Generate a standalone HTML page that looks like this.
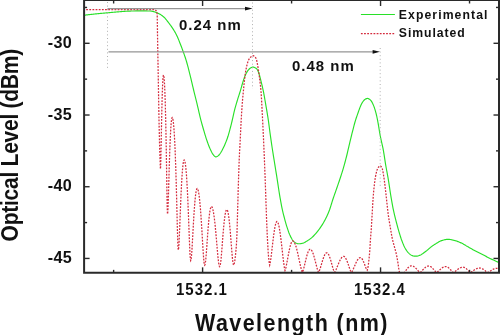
<!DOCTYPE html>
<html><head><meta charset="utf-8"><title>Optical spectrum</title>
<style>
html,body{margin:0;padding:0;background:#fff;width:500px;height:335px;overflow:hidden}
svg{display:block}
text{font-family:"Liberation Sans",Arial,sans-serif;font-weight:bold;fill:#111}
.tk{font-size:16.3px;letter-spacing:1.1px}
.lg{font-size:13.6px;letter-spacing:1.05px}
.ttl{font-size:23.6px}
</style></head>
<body>
<svg width="500" height="335" viewBox="0 0 500 335">
<defs><clipPath id="pa"><rect x="84.1" y="0" width="414.9" height="272.85"/></clipPath></defs>
<rect width="500" height="335" fill="#fff"/>
<g clip-path="url(#pa)" fill="none">
<path d="M83.00 15.50 L83.50 15.39 L84.00 15.30 L84.50 15.22 L85.00 15.14 L85.50 15.07 L86.00 15.00 L86.50 14.94 L87.00 14.87 L87.50 14.81 L88.00 14.75 L88.50 14.69 L89.00 14.63 L89.50 14.58 L90.00 14.52 L90.50 14.47 L91.00 14.41 L91.50 14.36 L92.00 14.31 L92.50 14.25 L93.00 14.20 L93.50 14.15 L94.00 14.09 L94.50 14.04 L95.00 13.99 L95.50 13.93 L96.00 13.88 L96.50 13.83 L97.00 13.78 L97.50 13.73 L98.00 13.68 L98.50 13.63 L99.00 13.58 L99.50 13.54 L100.00 13.49 L100.50 13.44 L101.00 13.39 L101.50 13.35 L102.00 13.30 L102.50 13.25 L103.00 13.21 L103.50 13.16 L104.00 13.11 L104.50 13.07 L105.00 13.02 L105.50 12.97 L106.00 12.93 L106.50 12.88 L107.00 12.84 L107.50 12.79 L108.00 12.74 L108.50 12.70 L109.00 12.65 L109.50 12.61 L110.00 12.56 L110.50 12.51 L111.00 12.47 L111.50 12.42 L112.00 12.38 L112.50 12.33 L113.00 12.29 L113.50 12.24 L114.00 12.20 L114.50 12.15 L115.00 12.11 L115.50 12.07 L116.00 12.02 L116.50 11.98 L117.00 11.94 L117.50 11.90 L118.00 11.86 L118.50 11.82 L119.00 11.78 L119.50 11.74 L120.00 11.70 L120.50 11.66 L121.00 11.62 L121.50 11.58 L122.00 11.54 L122.50 11.50 L123.00 11.46 L123.50 11.42 L124.00 11.39 L124.50 11.35 L125.00 11.31 L125.50 11.28 L126.00 11.24 L126.50 11.21 L127.00 11.19 L127.50 11.16 L128.00 11.14 L128.50 11.12 L129.00 11.10 L129.50 11.09 L130.00 11.07 L130.50 11.06 L131.00 11.04 L131.50 11.03 L132.00 11.02 L132.50 11.00 L133.00 10.99 L133.50 10.98 L134.00 10.97 L134.50 10.96 L135.00 10.95 L135.50 10.94 L136.00 10.93 L136.50 10.93 L137.00 10.92 L137.50 10.91 L138.00 10.91 L138.50 10.90 L139.00 10.90 L139.50 10.90 L140.00 10.90 L140.50 10.90 L141.00 10.90 L141.50 10.90 L142.00 10.90 L142.50 10.91 L143.00 10.91 L143.50 10.91 L144.00 10.92 L144.50 10.92 L145.00 10.92 L145.50 10.93 L146.00 10.94 L146.50 10.94 L147.00 10.95 L147.50 10.96 L148.00 10.96 L148.50 10.97 L149.00 10.98 L149.50 10.99 L150.00 11.00 L150.50 11.02 L151.00 11.07 L151.50 11.14 L152.00 11.23 L152.50 11.33 L153.00 11.45 L153.50 11.59 L154.00 11.73 L154.50 11.88 L155.00 12.04 L155.50 12.20 L156.00 12.37 L156.50 12.53 L157.00 12.72 L157.50 12.93 L158.00 13.16 L158.50 13.42 L159.00 13.68 L159.50 13.97 L160.00 14.26 L160.50 14.56 L161.00 14.87 L161.50 15.21 L162.00 15.56 L162.50 15.94 L163.00 16.33 L163.50 16.75 L164.00 17.20 L164.50 17.68 L165.00 18.21 L165.50 18.78 L166.00 19.38 L166.50 20.00 L167.00 20.64 L167.50 21.29 L168.00 21.95 L168.50 22.60 L169.00 23.25 L169.50 23.91 L170.00 24.58 L170.50 25.26 L171.00 25.95 L171.50 26.66 L172.00 27.39 L172.50 28.13 L173.00 28.90 L173.50 29.68 L174.00 30.48 L174.50 31.30 L175.00 32.15 L175.50 33.03 L176.00 33.94 L176.50 34.90 L177.00 35.91 L177.50 37.00 L178.00 38.17 L178.50 39.39 L179.00 40.64 L179.50 41.93 L180.00 43.22 L180.50 44.50 L181.00 45.78 L181.50 47.08 L182.00 48.40 L182.50 49.74 L183.00 51.11 L183.50 52.50 L184.00 53.91 L184.50 55.33 L185.00 56.78 L185.50 58.28 L186.00 59.85 L186.50 61.50 L187.00 63.25 L187.50 65.07 L188.00 66.95 L188.50 68.88 L189.00 70.83 L189.50 72.81 L190.00 74.80 L190.50 76.83 L191.00 78.91 L191.50 81.03 L192.00 83.16 L192.50 85.30 L193.00 87.42 L193.50 89.50 L194.00 91.55 L194.50 93.57 L195.00 95.58 L195.50 97.59 L196.00 99.60 L196.50 101.62 L197.00 103.67 L197.50 105.76 L198.00 107.91 L198.50 110.10 L199.00 112.30 L199.50 114.47 L200.00 116.58 L200.50 118.61 L201.00 120.54 L201.50 122.41 L202.00 124.23 L202.50 126.01 L203.00 127.76 L203.50 129.48 L204.00 131.18 L204.50 132.87 L205.00 134.55 L205.50 136.20 L206.00 137.80 L206.50 139.33 L207.00 140.80 L207.50 142.21 L208.00 143.59 L208.50 144.93 L209.00 146.23 L209.50 147.46 L210.00 148.62 L210.50 149.70 L211.00 150.74 L211.50 151.76 L212.00 152.72 L212.50 153.61 L213.00 154.38 L213.50 155.00 L214.00 155.55 L214.50 156.08 L215.00 156.53 L215.50 156.82 L216.00 156.90 L216.50 156.79 L217.00 156.57 L217.50 156.25 L218.00 155.89 L218.50 155.50 L219.00 155.03 L219.50 154.42 L220.00 153.72 L220.50 152.96 L221.00 152.19 L221.50 151.37 L222.00 150.49 L222.50 149.55 L223.00 148.57 L223.50 147.55 L224.00 146.49 L224.50 145.40 L225.00 144.27 L225.50 143.10 L226.00 141.87 L226.50 140.58 L227.00 139.23 L227.50 137.80 L228.00 136.30 L228.50 134.67 L229.00 132.91 L229.50 131.05 L230.00 129.14 L230.50 127.24 L231.00 125.29 L231.50 123.29 L232.00 121.24 L232.50 119.15 L233.00 116.95 L233.50 114.70 L234.00 112.48 L234.50 110.39 L235.00 108.47 L235.50 106.64 L236.00 104.88 L236.50 103.17 L237.00 101.49 L237.50 99.83 L238.00 98.20 L238.50 96.62 L239.00 95.08 L239.50 93.53 L240.00 91.96 L240.50 90.34 L241.00 88.60 L241.50 86.78 L242.00 84.99 L242.50 83.29 L243.00 81.64 L243.50 80.06 L244.00 78.60 L244.50 77.25 L245.00 75.98 L245.50 74.83 L246.00 73.80 L246.50 72.85 L247.00 71.96 L247.50 71.16 L248.00 70.45 L248.50 69.84 L249.00 69.27 L249.50 68.76 L250.00 68.32 L250.50 68.00 L251.00 67.74 L251.50 67.49 L252.00 67.29 L252.50 67.15 L253.00 67.10 L253.50 67.15 L254.00 67.29 L254.50 67.48 L255.00 67.71 L255.50 67.95 L256.00 68.27 L256.50 68.69 L257.00 69.20 L257.50 69.95 L258.00 70.98 L258.50 72.21 L259.00 73.57 L259.50 75.24 L260.00 77.14 L260.50 79.11 L261.00 81.06 L261.50 83.06 L262.00 85.12 L262.50 87.28 L263.00 89.55 L263.50 91.98 L264.00 94.61 L264.50 97.38 L265.00 100.25 L265.50 103.16 L266.00 106.05 L266.50 108.94 L267.00 111.86 L267.50 114.87 L268.00 118.02 L268.50 121.38 L269.00 125.07 L269.50 128.95 L270.00 132.80 L270.50 136.42 L271.00 139.92 L271.50 143.35 L272.00 146.71 L272.50 150.00 L273.00 153.21 L273.50 156.34 L274.00 159.43 L274.50 162.52 L275.00 165.62 L275.50 168.73 L276.00 171.84 L276.50 174.95 L277.00 178.09 L277.50 181.29 L278.00 184.61 L278.50 187.97 L279.00 191.27 L279.50 194.40 L280.00 197.34 L280.50 200.20 L281.00 202.95 L281.50 205.57 L282.00 208.05 L282.50 210.37 L283.00 212.51 L283.50 214.54 L284.00 216.50 L284.50 218.42 L285.00 220.30 L285.50 222.13 L286.00 223.89 L286.50 225.55 L287.00 227.12 L287.50 228.64 L288.00 230.14 L288.50 231.57 L289.00 232.94 L289.50 234.21 L290.00 235.37 L290.50 236.40 L291.00 237.38 L291.50 238.34 L292.00 239.24 L292.50 240.07 L293.00 240.79 L293.50 241.37 L294.00 241.80 L294.50 242.13 L295.00 242.45 L295.50 242.74 L296.00 243.01 L296.50 243.25 L297.00 243.45 L297.50 243.61 L298.00 243.73 L298.50 243.79 L299.00 243.80 L299.50 243.78 L300.00 243.73 L300.50 243.67 L301.00 243.59 L301.50 243.50 L302.00 243.40 L302.50 243.30 L303.00 243.16 L303.50 242.97 L304.00 242.73 L304.50 242.47 L305.00 242.18 L305.50 241.89 L306.00 241.60 L306.50 241.31 L307.00 241.02 L307.50 240.71 L308.00 240.39 L308.50 240.06 L309.00 239.72 L309.50 239.36 L310.00 239.00 L310.50 238.62 L311.00 238.23 L311.50 237.82 L312.00 237.40 L312.50 236.96 L313.00 236.49 L313.50 236.00 L314.00 235.49 L314.50 234.96 L315.00 234.41 L315.50 233.84 L316.00 233.26 L316.50 232.66 L317.00 232.05 L317.50 231.43 L318.00 230.80 L318.50 230.16 L319.00 229.50 L319.50 228.82 L320.00 228.12 L320.50 227.41 L321.00 226.67 L321.50 225.92 L322.00 225.14 L322.50 224.34 L323.00 223.52 L323.50 222.67 L324.00 221.80 L324.50 220.90 L325.00 219.98 L325.50 219.02 L326.00 218.02 L326.50 217.00 L327.00 215.93 L327.50 214.82 L328.00 213.68 L328.50 212.49 L329.00 211.25 L329.50 209.94 L330.00 208.49 L330.50 206.95 L331.00 205.34 L331.50 203.71 L332.00 202.09 L332.50 200.51 L333.00 199.01 L333.50 197.54 L334.00 196.10 L334.50 194.68 L335.00 193.26 L335.50 191.85 L336.00 190.43 L336.50 189.00 L337.00 187.56 L337.50 186.10 L338.00 184.63 L338.50 183.16 L339.00 181.70 L339.50 180.23 L340.00 178.75 L340.50 177.25 L341.00 175.73 L341.50 174.19 L342.00 172.61 L342.50 170.99 L343.00 169.33 L343.50 167.62 L344.00 165.87 L344.50 164.07 L345.00 162.24 L345.50 160.36 L346.00 158.45 L346.50 156.50 L347.00 154.49 L347.50 152.39 L348.00 150.24 L348.50 148.07 L349.00 145.90 L349.50 143.76 L350.00 141.67 L350.50 139.60 L351.00 137.54 L351.50 135.50 L352.00 133.48 L352.50 131.50 L353.00 129.52 L353.50 127.55 L354.00 125.61 L354.50 123.75 L355.00 122.00 L355.50 120.36 L356.00 118.79 L356.50 117.29 L357.00 115.83 L357.50 114.40 L358.00 112.98 L358.50 111.56 L359.00 110.14 L359.50 108.74 L360.00 107.40 L360.50 106.17 L361.00 105.07 L361.50 104.05 L362.00 103.09 L362.50 102.23 L363.00 101.50 L363.50 100.85 L364.00 100.26 L364.50 99.77 L365.00 99.40 L365.50 99.12 L366.00 98.85 L366.50 98.63 L367.00 98.47 L367.50 98.40 L368.00 98.45 L368.50 98.64 L369.00 98.92 L369.50 99.24 L370.00 99.60 L370.50 100.08 L371.00 100.67 L371.50 101.34 L372.00 102.15 L372.50 103.12 L373.00 104.21 L373.50 105.40 L374.00 106.66 L374.50 108.06 L375.00 109.64 L375.50 111.36 L376.00 113.22 L376.50 115.24 L377.00 117.50 L377.50 119.95 L378.00 122.53 L378.50 125.40 L379.00 128.48 L379.50 131.57 L380.00 134.46 L380.50 137.02 L381.00 139.36 L381.50 141.58 L382.00 143.76 L382.50 146.02 L383.00 148.43 L383.50 151.11 L384.00 154.13 L384.50 157.35 L385.00 160.63 L385.50 163.80 L386.00 166.73 L386.50 169.50 L387.00 172.19 L387.50 174.88 L388.00 177.66 L388.50 180.61 L389.00 183.81 L389.50 187.16 L390.00 190.53 L390.50 193.77 L391.00 196.80 L391.50 199.76 L392.00 202.65 L392.50 205.42 L393.00 208.04 L393.50 210.47 L394.00 212.74 L394.50 214.89 L395.00 216.95 L395.50 218.93 L396.00 220.85 L396.50 222.75 L397.00 224.62 L397.50 226.49 L398.00 228.32 L398.50 230.09 L399.00 231.82 L399.50 233.50 L400.00 235.14 L400.50 236.76 L401.00 238.30 L401.50 239.73 L402.00 241.06 L402.50 242.36 L403.00 243.62 L403.50 244.82 L404.00 245.96 L404.50 247.01 L405.00 247.97 L405.50 248.83 L406.00 249.64 L406.50 250.40 L407.00 251.10 L407.50 251.76 L408.00 252.36 L408.50 252.91 L409.00 253.39 L409.50 253.84 L410.00 254.25 L410.50 254.62 L411.00 254.94 L411.50 255.20 L412.00 255.43 L412.50 255.65 L413.00 255.84 L413.50 255.99 L414.00 256.08 L414.50 256.10 L415.00 256.10 L415.50 256.10 L416.00 256.10 L416.50 256.10 L417.00 256.10 L417.50 256.06 L418.00 255.94 L418.50 255.78 L419.00 255.58 L419.50 255.38 L420.00 255.18 L420.50 254.95 L421.00 254.69 L421.50 254.40 L422.00 254.09 L422.50 253.76 L423.00 253.42 L423.50 253.06 L424.00 252.69 L424.50 252.32 L425.00 251.94 L425.50 251.57 L426.00 251.20 L426.50 250.82 L427.00 250.42 L427.50 250.00 L428.00 249.57 L428.50 249.13 L429.00 248.69 L429.50 248.25 L430.00 247.82 L430.50 247.41 L431.00 247.00 L431.50 246.63 L432.00 246.26 L432.50 245.90 L433.00 245.55 L433.50 245.21 L434.00 244.88 L434.50 244.56 L435.00 244.24 L435.50 243.94 L436.00 243.63 L436.50 243.32 L437.00 243.01 L437.50 242.69 L438.00 242.39 L438.50 242.09 L439.00 241.80 L439.50 241.53 L440.00 241.28 L440.50 241.05 L441.00 240.84 L441.50 240.66 L442.00 240.51 L442.50 240.36 L443.00 240.21 L443.50 240.07 L444.00 239.93 L444.50 239.80 L445.00 239.68 L445.50 239.57 L446.00 239.48 L446.50 239.40 L447.00 239.35 L447.50 239.31 L448.00 239.30 L448.50 239.31 L449.00 239.34 L449.50 239.39 L450.00 239.46 L450.50 239.54 L451.00 239.63 L451.50 239.74 L452.00 239.85 L452.50 239.96 L453.00 240.09 L453.50 240.21 L454.00 240.33 L454.50 240.45 L455.00 240.58 L455.50 240.72 L456.00 240.88 L456.50 241.04 L457.00 241.22 L457.50 241.40 L458.00 241.59 L458.50 241.79 L459.00 242.00 L459.50 242.21 L460.00 242.43 L460.50 242.65 L461.00 242.87 L461.50 243.10 L462.00 243.34 L462.50 243.59 L463.00 243.86 L463.50 244.14 L464.00 244.42 L464.50 244.72 L465.00 245.02 L465.50 245.33 L466.00 245.63 L466.50 245.94 L467.00 246.23 L467.50 246.53 L468.00 246.81 L468.50 247.10 L469.00 247.38 L469.50 247.67 L470.00 247.96 L470.50 248.24 L471.00 248.53 L471.50 248.81 L472.00 249.10 L472.50 249.38 L473.00 249.65 L473.50 249.93 L474.00 250.20 L474.50 250.47 L475.00 250.73 L475.50 250.99 L476.00 251.25 L476.50 251.51 L477.00 251.77 L477.50 252.02 L478.00 252.28 L478.50 252.53 L479.00 252.78 L479.50 253.03 L480.00 253.29 L480.50 253.54 L481.00 253.79 L481.50 254.04 L482.00 254.30 L482.50 254.56 L483.00 254.81 L483.50 255.07 L484.00 255.33 L484.50 255.59 L485.00 255.85 L485.50 256.11 L486.00 256.37 L486.50 256.63 L487.00 256.89 L487.50 257.15 L488.00 257.41 L488.50 257.66 L489.00 257.91 L489.50 258.16 L490.00 258.41 L490.50 258.66 L491.00 258.90 L491.50 259.14 L492.00 259.38 L492.50 259.61 L493.00 259.84 L493.50 260.07 L494.00 260.29 L494.50 260.52 L495.00 260.74 L495.50 260.97 L496.00 261.19 L496.50 261.42 L497.00 261.65 L497.50 261.88 L498.00 262.11 L498.50 262.34 L499.00 262.57 L499.50 262.81 L500.00 263.05 L500.50 263.28 L501.00 263.52 L501.50 263.76 L502.00 264.00" stroke="#28e028" stroke-width="1.15" stroke-linejoin="round"/>
<path d="M83.00 9.50 L155.20 9.60 L156.40 11.00 L157.20 14.00 L157.60 40.00 L158.30 80.00 L159.00 120.00 L159.70 150.00 L160.40 169.00 L160.53 168.07 L160.66 165.37 L160.79 161.16 L160.92 155.80 L161.05 149.67 L161.18 143.09 L161.30 136.35 L161.43 129.66 L161.56 123.16 L161.69 116.97 L161.82 111.15 L161.95 105.73 L162.08 100.75 L162.21 96.22 L162.34 92.13 L162.47 88.49 L162.60 85.30 L162.72 82.54 L162.85 80.23 L162.98 78.34 L163.11 76.87 L163.24 75.83 L163.37 75.21 L163.50 75.00 L163.67 75.24 L163.83 75.95 L164.00 77.15 L164.17 78.84 L164.33 81.03 L164.50 83.73 L164.67 86.95 L164.83 90.73 L165.00 95.08 L165.17 100.02 L165.33 105.59 L165.50 111.82 L165.67 118.75 L165.83 126.40 L166.00 134.80 L166.17 143.96 L166.33 153.85 L166.50 164.39 L166.67 175.38 L166.83 186.42 L167.00 196.88 L167.17 205.75 L167.33 211.82 L167.50 214.00 L167.70 213.02 L167.89 210.18 L168.09 205.78 L168.28 200.18 L168.48 193.80 L168.68 186.98 L168.87 180.03 L169.07 173.14 L169.26 166.48 L169.46 160.14 L169.65 154.20 L169.85 148.68 L170.05 143.61 L170.24 139.00 L170.44 134.85 L170.63 131.16 L170.83 127.92 L171.02 125.13 L171.22 122.79 L171.42 120.88 L171.61 119.40 L171.81 118.34 L172.00 117.71 L172.20 117.50 L172.45 117.74 L172.71 118.44 L172.96 119.62 L173.22 121.29 L173.47 123.44 L173.72 126.10 L173.98 129.28 L174.23 132.99 L174.49 137.26 L174.74 142.11 L175.00 147.57 L175.25 153.66 L175.50 160.42 L175.76 167.85 L176.01 175.99 L176.27 184.81 L176.52 194.29 L176.78 204.31 L177.03 214.66 L177.28 224.95 L177.54 234.56 L177.79 242.61 L178.05 248.06 L178.30 250.00 L178.55 249.14 L178.79 246.65 L179.04 242.75 L179.28 237.76 L179.53 232.01 L179.78 225.80 L180.02 219.41 L180.27 213.03 L180.51 206.81 L180.76 200.85 L181.00 195.23 L181.25 189.99 L181.50 185.15 L181.74 180.74 L181.99 176.76 L182.23 173.21 L182.48 170.09 L182.72 167.39 L182.97 165.12 L183.22 163.27 L183.46 161.84 L183.71 160.82 L183.95 160.20 L184.20 160.00 L184.47 160.21 L184.74 160.86 L185.01 161.93 L185.28 163.44 L185.55 165.38 L185.82 167.78 L186.10 170.62 L186.37 173.93 L186.64 177.70 L186.91 181.95 L187.18 186.68 L187.45 191.89 L187.72 197.58 L187.99 203.73 L188.26 210.30 L188.53 217.24 L188.80 224.45 L189.07 231.77 L189.35 238.99 L189.62 245.79 L189.89 251.80 L190.16 256.56 L190.43 259.63 L190.70 260.70 L190.97 260.12 L191.24 258.42 L191.51 255.72 L191.78 252.18 L192.05 248.01 L192.32 243.39 L192.60 238.52 L192.87 233.53 L193.14 228.57 L193.41 223.72 L193.68 219.08 L193.95 214.68 L194.22 210.57 L194.49 206.78 L194.76 203.33 L195.03 200.22 L195.30 197.48 L195.57 195.10 L195.85 193.08 L196.12 191.43 L196.39 190.15 L196.66 189.23 L196.93 188.68 L197.20 188.50 L197.51 188.69 L197.82 189.26 L198.14 190.20 L198.45 191.53 L198.76 193.23 L199.07 195.32 L199.39 197.79 L199.70 200.64 L200.01 203.86 L200.32 207.46 L200.64 211.42 L200.95 215.72 L201.26 220.35 L201.57 225.25 L201.89 230.39 L202.20 235.67 L202.51 241.01 L202.82 246.26 L203.14 251.27 L203.45 255.82 L203.76 259.70 L204.07 262.68 L204.39 264.56 L204.70 265.20 L204.98 264.78 L205.26 263.56 L205.54 261.59 L205.82 258.99 L206.10 255.86 L206.38 252.34 L206.65 248.55 L206.93 244.62 L207.21 240.64 L207.49 236.69 L207.77 232.85 L208.05 229.18 L208.33 225.71 L208.61 222.47 L208.89 219.50 L209.17 216.81 L209.45 214.42 L209.72 212.33 L210.00 210.56 L210.28 209.10 L210.56 207.96 L210.84 207.15 L211.12 206.66 L211.40 206.50 L211.75 206.67 L212.09 207.16 L212.44 207.99 L212.78 209.14 L213.13 210.62 L213.47 212.42 L213.82 214.55 L214.17 216.98 L214.51 219.72 L214.86 222.75 L215.20 226.05 L215.55 229.59 L215.90 233.35 L216.24 237.29 L216.59 241.33 L216.93 245.42 L217.28 249.47 L217.62 253.38 L217.97 257.01 L218.32 260.25 L218.66 262.95 L219.01 265.00 L219.35 266.27 L219.70 266.70 L220.00 266.30 L220.29 265.13 L220.59 263.24 L220.88 260.73 L221.18 257.72 L221.47 254.32 L221.77 250.66 L222.07 246.85 L222.36 242.99 L222.66 239.15 L222.95 235.41 L223.25 231.82 L223.55 228.43 L223.84 225.27 L224.14 222.36 L224.43 219.73 L224.73 217.38 L225.03 215.33 L225.32 213.59 L225.62 212.16 L225.91 211.04 L226.21 210.24 L226.50 209.76 L226.80 209.60 L227.09 209.76 L227.38 210.23 L227.66 211.02 L227.95 212.11 L228.24 213.52 L228.53 215.23 L228.81 217.24 L229.10 219.55 L229.39 222.13 L229.68 224.98 L229.96 228.08 L230.25 231.39 L230.54 234.89 L230.82 238.54 L231.11 242.27 L231.40 246.03 L231.69 249.73 L231.97 253.27 L232.26 256.55 L232.55 259.46 L232.84 261.87 L233.12 263.69 L233.41 264.82 L233.70 265.20 L233.95 264.65 L234.20 263.79 L234.45 262.72 L234.70 261.47 L234.95 259.80 L235.20 257.76 L235.45 255.45 L235.70 253.02 L235.95 250.46 L236.20 247.59 L236.45 244.17 L236.70 240.00 L236.95 233.81 L237.20 225.52 L237.45 216.69 L237.70 207.98 L237.95 198.76 L238.20 190.00 L238.45 181.83 L238.70 173.90 L238.95 166.53 L239.20 160.00 L239.45 154.44 L239.70 149.50 L239.95 144.81 L240.20 140.00 L240.45 134.88 L240.70 129.68 L240.95 124.64 L241.20 120.00 L241.45 115.72 L241.70 111.64 L241.95 107.82 L242.20 104.31 L242.45 101.15 L242.70 98.28 L242.95 95.62 L243.20 93.07 L243.45 90.52 L243.70 87.90 L243.95 85.27 L244.20 82.74 L244.45 80.43 L244.70 78.33 L244.95 76.32 L245.20 74.41 L245.45 72.66 L245.70 71.09 L245.95 69.75 L246.20 68.52 L246.45 67.34 L246.70 66.21 L246.95 65.15 L247.20 64.15 L247.45 63.22 L247.70 62.37 L247.95 61.60 L248.20 60.91 L248.45 60.31 L248.70 59.81 L248.95 59.35 L249.20 58.93 L249.45 58.54 L249.70 58.19 L249.95 57.87 L250.20 57.58 L250.45 57.32 L250.70 57.08 L250.95 56.88 L251.20 56.67 L251.45 56.46 L251.70 56.27 L251.95 56.09 L252.20 55.94 L252.45 55.82 L252.70 55.74 L252.95 55.70 L253.20 55.71 L253.45 55.77 L253.70 55.87 L253.95 56.00 L254.20 56.16 L254.45 56.34 L254.70 56.54 L254.95 56.76 L255.20 57.01 L255.45 57.37 L255.70 57.82 L255.95 58.36 L256.20 58.97 L256.45 59.64 L256.70 60.50 L256.95 61.57 L257.20 62.81 L257.45 64.19 L257.70 65.67 L257.95 67.21 L258.20 68.77 L258.45 70.31 L258.70 71.91 L258.95 73.60 L259.20 75.39 L259.45 77.26 L259.70 79.20 L259.95 81.20 L260.20 83.22 L260.45 85.38 L260.70 87.80 L260.95 90.60 L261.20 94.01 L261.45 98.00 L261.70 102.44 L261.95 107.18 L262.20 112.10 L262.45 117.06 L262.70 121.96 L262.95 126.99 L263.20 132.21 L263.45 137.61 L263.70 143.16 L263.95 148.85 L264.20 154.69 L264.45 160.73 L264.70 166.96 L264.95 173.39 L265.20 180.00 L265.45 186.98 L265.70 194.25 L265.95 201.42 L266.20 208.64 L266.45 215.80 L266.70 222.52 L266.95 228.52 L267.20 234.02 L267.45 239.05 L267.70 243.80 L267.95 248.39 L268.20 252.44 L268.45 255.54 L268.70 258.17 L268.95 260.58 L269.20 262.63 L269.45 264.21 L269.70 265.20 L270.00 264.10 L270.31 262.40 L270.61 260.39 L270.92 258.15 L271.22 255.76 L271.52 253.25 L271.83 250.67 L272.13 248.06 L272.44 245.44 L272.74 242.84 L273.05 240.30 L273.35 237.83 L273.65 235.47 L273.96 233.23 L274.26 231.14 L274.57 229.21 L274.87 227.47 L275.18 225.93 L275.48 224.60 L275.78 223.50 L276.09 222.63 L276.39 222.00 L276.70 221.63 L277.00 221.50 L277.33 221.64 L277.67 222.07 L278.00 222.77 L278.33 223.74 L278.67 224.98 L279.00 226.47 L279.33 228.20 L279.67 230.15 L280.00 232.31 L280.33 234.65 L280.67 237.16 L281.00 239.81 L281.33 242.57 L281.67 245.43 L282.00 248.34 L282.33 251.28 L282.67 254.21 L283.00 257.10 L283.33 259.91 L283.67 262.60 L284.00 265.10 L284.33 267.36 L284.67 269.27 L285.00 270.50 L285.32 269.76 L285.65 268.61 L285.98 267.25 L286.30 265.74 L286.62 264.13 L286.95 262.43 L287.27 260.69 L287.60 258.93 L287.93 257.16 L288.25 255.41 L288.57 253.69 L288.90 252.02 L289.23 250.43 L289.55 248.92 L289.88 247.51 L290.20 246.21 L290.53 245.03 L290.85 243.99 L291.18 243.09 L291.50 242.35 L291.82 241.76 L292.15 241.34 L292.48 241.09 L292.80 241.00 L293.20 241.09 L293.60 241.36 L294.00 241.81 L294.40 242.43 L294.80 243.22 L295.20 244.17 L295.60 245.28 L296.00 246.52 L296.40 247.90 L296.80 249.40 L297.20 251.00 L297.60 252.70 L298.00 254.46 L298.40 256.28 L298.80 258.14 L299.20 260.02 L299.60 261.89 L300.00 263.74 L300.40 265.54 L300.80 267.25 L301.20 268.85 L301.60 270.30 L302.00 271.51 L302.40 272.30 L302.72 271.72 L303.05 270.82 L303.38 269.76 L303.70 268.57 L304.02 267.31 L304.35 265.98 L304.67 264.62 L305.00 263.24 L305.32 261.85 L305.65 260.48 L305.97 259.14 L306.30 257.83 L306.62 256.58 L306.95 255.40 L307.27 254.29 L307.60 253.28 L307.93 252.36 L308.25 251.54 L308.57 250.84 L308.90 250.26 L309.22 249.80 L309.55 249.47 L309.88 249.27 L310.20 249.20 L310.55 249.27 L310.90 249.47 L311.25 249.80 L311.60 250.26 L311.95 250.84 L312.30 251.54 L312.65 252.36 L313.00 253.28 L313.35 254.29 L313.70 255.40 L314.05 256.58 L314.40 257.83 L314.75 259.14 L315.10 260.48 L315.45 261.85 L315.80 263.24 L316.15 264.62 L316.50 265.98 L316.85 267.31 L317.20 268.57 L317.55 269.76 L317.90 270.82 L318.25 271.72 L318.60 272.30 L318.94 271.81 L319.28 271.05 L319.62 270.15 L319.97 269.16 L320.31 268.09 L320.65 266.97 L320.99 265.82 L321.33 264.65 L321.68 263.48 L322.02 262.32 L322.36 261.19 L322.70 260.09 L323.04 259.03 L323.38 258.03 L323.73 257.10 L324.07 256.24 L324.41 255.46 L324.75 254.78 L325.09 254.18 L325.43 253.69 L325.78 253.30 L326.12 253.02 L326.46 252.86 L326.80 252.80 L327.12 252.86 L327.44 253.02 L327.76 253.30 L328.08 253.69 L328.40 254.18 L328.73 254.78 L329.05 255.46 L329.37 256.24 L329.69 257.10 L330.01 258.03 L330.33 259.03 L330.65 260.09 L330.97 261.19 L331.29 262.32 L331.61 263.48 L331.93 264.65 L332.25 265.82 L332.57 266.97 L332.90 268.09 L333.22 269.16 L333.54 270.15 L333.86 271.05 L334.18 271.81 L334.50 272.30 L334.88 271.90 L335.26 271.28 L335.64 270.55 L336.02 269.74 L336.40 268.86 L336.77 267.95 L337.15 267.01 L337.53 266.06 L337.91 265.11 L338.29 264.16 L338.67 263.24 L339.05 262.34 L339.43 261.48 L339.81 260.67 L340.19 259.91 L340.57 259.21 L340.95 258.57 L341.33 258.01 L341.70 257.53 L342.08 257.13 L342.46 256.81 L342.84 256.58 L343.22 256.45 L343.60 256.40 L343.93 256.45 L344.25 256.58 L344.58 256.81 L344.90 257.13 L345.23 257.53 L345.55 258.01 L345.88 258.57 L346.20 259.21 L346.52 259.91 L346.85 260.67 L347.18 261.48 L347.50 262.34 L347.82 263.24 L348.15 264.16 L348.48 265.11 L348.80 266.06 L349.12 267.01 L349.45 267.95 L349.77 268.86 L350.10 269.74 L350.42 270.55 L350.75 271.28 L351.07 271.90 L351.40 272.30 L351.77 271.93 L352.15 271.36 L352.52 270.68 L352.90 269.93 L353.27 269.12 L353.65 268.28 L354.02 267.41 L354.40 266.53 L354.77 265.65 L355.15 264.78 L355.52 263.92 L355.90 263.09 L356.27 262.30 L356.65 261.55 L357.02 260.84 L357.40 260.19 L357.77 259.61 L358.15 259.09 L358.52 258.64 L358.90 258.27 L359.27 257.98 L359.65 257.77 L360.02 257.64 L360.40 257.60 L360.68 257.64 L360.97 257.75 L361.25 257.93 L361.53 258.18 L361.82 258.50 L362.10 258.89 L362.38 259.34 L362.67 259.84 L362.95 260.40 L363.23 261.01 L363.52 261.66 L363.80 262.35 L364.08 263.06 L364.37 263.80 L364.65 264.56 L364.93 265.32 L365.22 266.08 L365.50 266.83 L365.78 267.56 L366.07 268.25 L366.35 268.90 L366.63 269.49 L366.92 269.98 L367.20 270.30 L367.45 269.54 L367.70 268.50 L367.95 267.27 L368.20 265.77 L368.45 263.89 L368.70 261.78 L368.95 259.57 L369.20 257.22 L369.45 254.63 L369.70 251.70 L369.95 248.06 L370.20 243.40 L370.45 239.29 L370.70 236.12 L370.95 233.22 L371.20 230.00 L371.45 226.15 L371.70 221.91 L371.95 217.55 L372.20 213.31 L372.45 208.97 L372.70 204.68 L372.95 200.73 L373.20 197.21 L373.45 193.93 L373.70 191.03 L373.95 188.53 L374.20 186.18 L374.45 183.95 L374.70 181.88 L374.95 179.97 L375.20 178.27 L375.45 176.78 L375.70 175.52 L375.95 174.35 L376.20 173.24 L376.45 172.21 L376.70 171.26 L376.95 170.41 L377.20 169.65 L377.45 169.01 L377.70 168.48 L377.95 168.05 L378.20 167.64 L378.45 167.26 L378.70 166.90 L378.95 166.57 L379.20 166.29 L379.45 166.07 L379.70 165.90 L379.95 165.82 L380.20 165.81 L380.45 165.90 L380.70 166.09 L380.95 166.36 L381.20 166.70 L381.45 167.11 L381.70 167.57 L381.95 168.07 L382.20 168.60 L382.45 169.32 L382.70 170.35 L382.95 171.62 L383.20 173.06 L383.45 174.62 L383.70 176.23 L383.95 177.82 L384.20 179.51 L384.45 181.36 L384.70 183.32 L384.95 185.36 L385.20 187.46 L385.45 189.58 L385.70 191.74 L385.95 194.00 L386.20 196.32 L386.45 198.64 L386.70 200.90 L386.95 203.21 L387.20 205.54 L387.45 207.85 L387.70 210.11 L387.95 212.26 L388.20 214.25 L388.45 216.07 L388.70 217.76 L388.95 219.36 L389.20 220.88 L389.45 222.36 L389.70 223.82 L389.95 225.30 L390.20 226.79 L390.45 228.28 L390.70 229.78 L390.95 231.26 L391.20 232.72 L391.45 234.15 L391.70 235.53 L391.95 236.86 L392.20 238.13 L392.45 239.32 L392.70 240.43 L392.95 241.45 L393.20 242.40 L393.45 243.30 L393.70 244.19 L393.95 245.08 L394.20 246.00 L394.45 246.93 L394.70 247.83 L394.95 248.73 L395.20 249.63 L395.45 250.55 L395.70 251.50 L395.95 252.50 L396.20 253.56 L396.45 254.69 L396.70 255.92 L396.95 257.22 L397.20 258.59 L397.45 259.99 L397.70 261.43 L397.95 262.92 L398.20 264.63 L398.45 266.46 L398.70 268.26 L398.95 269.90 L399.20 271.24 L399.45 272.15 L399.70 272.88 L399.95 273.58 L400.20 274.22 L400.45 274.79 L400.70 275.27 L400.95 275.64 L401.20 275.89 L401.45 276.00 L401.50 276.00 L401.92 275.71 L402.34 275.28 L402.76 274.78 L403.18 274.24 L403.60 273.67 L404.02 273.07 L404.45 272.47 L404.87 271.86 L405.29 271.25 L405.71 270.65 L406.13 270.06 L406.55 269.50 L406.97 268.96 L407.39 268.45 L407.81 267.98 L408.23 267.54 L408.65 267.15 L409.08 266.80 L409.50 266.50 L409.92 266.25 L410.34 266.05 L410.76 265.91 L411.18 265.83 L411.60 265.80 L411.95 265.82 L412.30 265.87 L412.65 265.96 L413.00 266.09 L413.35 266.25 L413.70 266.45 L414.05 266.67 L414.40 266.93 L414.75 267.21 L415.10 267.52 L415.45 267.84 L415.80 268.19 L416.15 268.56 L416.50 268.94 L416.85 269.33 L417.20 269.72 L417.55 270.11 L417.90 270.51 L418.25 270.89 L418.60 271.26 L418.95 271.61 L419.30 271.93 L419.65 272.21 L420.00 272.40 L420.36 272.22 L420.73 271.95 L421.09 271.64 L421.45 271.30 L421.81 270.94 L422.18 270.56 L422.54 270.18 L422.90 269.80 L423.26 269.42 L423.62 269.04 L423.99 268.68 L424.35 268.32 L424.71 267.98 L425.07 267.66 L425.44 267.37 L425.80 267.09 L426.16 266.84 L426.52 266.63 L426.89 266.44 L427.25 266.28 L427.61 266.16 L427.97 266.07 L428.34 266.02 L428.70 266.00 L429.02 266.02 L429.35 266.07 L429.68 266.16 L430.00 266.28 L430.32 266.44 L430.65 266.63 L430.97 266.84 L431.30 267.09 L431.62 267.37 L431.95 267.66 L432.27 267.98 L432.60 268.32 L432.93 268.68 L433.25 269.04 L433.57 269.42 L433.90 269.80 L434.23 270.18 L434.55 270.56 L434.88 270.94 L435.20 271.30 L435.52 271.64 L435.85 271.95 L436.18 272.22 L436.50 272.40 L436.88 272.23 L437.27 271.99 L437.65 271.71 L438.03 271.40 L438.42 271.07 L438.80 270.74 L439.18 270.39 L439.57 270.04 L439.95 269.70 L440.33 269.36 L440.72 269.02 L441.10 268.70 L441.48 268.40 L441.87 268.11 L442.25 267.84 L442.63 267.59 L443.02 267.37 L443.40 267.17 L443.78 267.00 L444.17 266.86 L444.55 266.74 L444.93 266.66 L445.32 266.62 L445.70 266.60 L446.02 266.62 L446.34 266.66 L446.66 266.74 L446.98 266.86 L447.30 267.00 L447.62 267.17 L447.95 267.37 L448.27 267.59 L448.59 267.84 L448.91 268.11 L449.23 268.40 L449.55 268.70 L449.87 269.02 L450.19 269.36 L450.51 269.70 L450.83 270.04 L451.15 270.39 L451.47 270.74 L451.80 271.07 L452.12 271.40 L452.44 271.71 L452.76 271.99 L453.08 272.23 L453.40 272.40 L453.80 272.25 L454.20 272.03 L454.60 271.78 L455.00 271.50 L455.40 271.21 L455.80 270.91 L456.20 270.60 L456.60 270.29 L457.00 269.98 L457.40 269.67 L457.80 269.37 L458.20 269.09 L458.60 268.81 L459.00 268.55 L459.40 268.31 L459.80 268.09 L460.20 267.89 L460.60 267.71 L461.00 267.56 L461.40 267.43 L461.80 267.33 L462.20 267.26 L462.60 267.21 L463.00 267.20 L463.31 267.21 L463.62 267.26 L463.94 267.33 L464.25 267.43 L464.56 267.56 L464.88 267.71 L465.19 267.89 L465.50 268.09 L465.81 268.31 L466.12 268.55 L466.44 268.81 L466.75 269.09 L467.06 269.37 L467.38 269.67 L467.69 269.98 L468.00 270.29 L468.31 270.60 L468.62 270.91 L468.94 271.21 L469.25 271.50 L469.56 271.78 L469.88 272.03 L470.19 272.25 L470.50 272.40 L470.88 272.27 L471.25 272.09 L471.62 271.87 L472.00 271.64 L472.38 271.39 L472.75 271.14 L473.12 270.88 L473.50 270.61 L473.88 270.35 L474.25 270.09 L474.62 269.84 L475.00 269.60 L475.38 269.36 L475.75 269.14 L476.12 268.94 L476.50 268.75 L476.88 268.58 L477.25 268.43 L477.62 268.30 L478.00 268.19 L478.38 268.11 L478.75 268.05 L479.12 268.01 L479.50 268.00 L479.85 268.01 L480.19 268.05 L480.54 268.11 L480.88 268.19 L481.23 268.30 L481.57 268.43 L481.92 268.58 L482.27 268.75 L482.61 268.94 L482.96 269.14 L483.30 269.36 L483.65 269.60 L484.00 269.84 L484.34 270.09 L484.69 270.35 L485.03 270.61 L485.38 270.88 L485.73 271.14 L486.07 271.39 L486.42 271.64 L486.76 271.87 L487.11 272.09 L487.45 272.27 L487.80 272.40 L488.17 272.28 L488.54 272.11 L488.91 271.91 L489.28 271.69 L489.65 271.46 L490.02 271.22 L490.40 270.98 L490.77 270.73 L491.14 270.49 L491.51 270.25 L491.88 270.01 L492.25 269.79 L492.62 269.57 L492.99 269.37 L493.36 269.17 L493.73 269.00 L494.10 268.84 L494.48 268.70 L494.85 268.58 L495.22 268.48 L495.59 268.40 L495.96 268.35 L496.33 268.31 L496.70 268.30 L497.05 268.31 L497.39 268.35 L497.74 268.40 L498.08 268.48 L498.43 268.58 L498.77 268.70 L499.12 268.84 L499.47 269.00 L499.81 269.17 L500.16 269.37 L500.50 269.57 L500.85 269.79 L501.20 270.01 L501.54 270.25 L501.89 270.49 L502.23 270.73 L502.58 270.98 L502.93 271.22 L503.27 271.46 L503.62 271.69 L503.96 271.91 L504.31 272.11 L504.65 272.28 L505.00 272.40" stroke="#d42a3c" stroke-width="1.25" stroke-dasharray="1.8 1.35"/>
</g>
<!-- dimension markers -->
<g stroke="#b0b0b0" stroke-width="1" stroke-dasharray="1 2.6" fill="none">
<line x1="107.5" y1="2" x2="107.5" y2="70"/>
<line x1="252.5" y1="2.5" x2="252.5" y2="89"/>
<line x1="380.2" y1="48" x2="380.2" y2="186"/>
</g>
<g stroke="#959595" stroke-width="1.25">
<line x1="107.5" y1="8.5" x2="246" y2="8.5"/>
<line x1="108.5" y1="51.8" x2="373" y2="51.8"/>
</g>
<g fill="#111">
<path d="M245 6.8 L252.6 8.5 L245 10.6 Z"/>
<path d="M372.6 50 L380 51.8 L372.6 53.8 Z"/>
</g>
<!-- axes -->
<g stroke="#2a2a2a" stroke-width="2" fill="none">
<path d="M84.1 0.0 V272.85 H499.0 V0.0 Z" stroke-linejoin="miter"/>
</g>
<g stroke="#2a2a2a" stroke-width="1.4">
<line x1="84.10" y1="7.44" x2="87.10" y2="7.44"/>
<line x1="499.00" y1="7.44" x2="496.00" y2="7.44"/>
<line x1="84.10" y1="43.30" x2="89.60" y2="43.30"/>
<line x1="499.00" y1="43.30" x2="493.50" y2="43.30"/>
<line x1="84.10" y1="79.16" x2="87.10" y2="79.16"/>
<line x1="499.00" y1="79.16" x2="496.00" y2="79.16"/>
<line x1="84.10" y1="115.02" x2="89.60" y2="115.02"/>
<line x1="499.00" y1="115.02" x2="493.50" y2="115.02"/>
<line x1="84.10" y1="150.87" x2="87.10" y2="150.87"/>
<line x1="499.00" y1="150.87" x2="496.00" y2="150.87"/>
<line x1="84.10" y1="186.73" x2="89.60" y2="186.73"/>
<line x1="499.00" y1="186.73" x2="493.50" y2="186.73"/>
<line x1="84.10" y1="222.59" x2="87.10" y2="222.59"/>
<line x1="499.00" y1="222.59" x2="496.00" y2="222.59"/>
<line x1="84.10" y1="258.44" x2="89.60" y2="258.44"/>
<line x1="499.00" y1="258.44" x2="493.50" y2="258.44"/>
<line x1="113.63" y1="272.85" x2="113.63" y2="269.85"/>
<line x1="113.63" y1="0.00" x2="113.63" y2="3.50"/>
<line x1="202.60" y1="272.85" x2="202.60" y2="267.35"/>
<line x1="202.60" y1="0.00" x2="202.60" y2="6.00"/>
<line x1="291.58" y1="272.85" x2="291.58" y2="269.85"/>
<line x1="291.58" y1="0.00" x2="291.58" y2="3.50"/>
<line x1="380.55" y1="272.85" x2="380.55" y2="267.35"/>
<line x1="380.55" y1="0.00" x2="380.55" y2="6.00"/>
<line x1="469.53" y1="272.85" x2="469.53" y2="269.85"/>
<line x1="469.53" y1="0.00" x2="469.53" y2="3.50"/>
</g>
<g class="tk">
<text transform="translate(72.00 47.90) scale(1.03 1)" text-anchor="end" style="font-size:15.7px;letter-spacing:0.3px">-30</text>
<text transform="translate(72.00 119.61) scale(1.03 1)" text-anchor="end" style="font-size:15.7px;letter-spacing:0.3px">-35</text>
<text transform="translate(72.00 191.33) scale(1.03 1)" text-anchor="end" style="font-size:15.7px;letter-spacing:0.3px">-40</text>
<text transform="translate(72.00 263.05) scale(1.03 1)" text-anchor="end" style="font-size:15.7px;letter-spacing:0.3px">-45</text>
<text transform="translate(176.00 295.20) scale(0.92 1)" style="font-size:16.3px;letter-spacing:1.1px">1532.1</text>
<text transform="translate(354.00 295.20) scale(0.92 1)" style="font-size:16.3px;letter-spacing:1.1px">1532.4</text>
<text transform="translate(179.00 30.00) scale(1.07 1)" style="font-size:14px;letter-spacing:0.95px">0.24 nm</text>
<text transform="translate(291.90 71.20) scale(1.07 1)" style="font-size:14px;letter-spacing:0.95px">0.48 nm</text>
</g>
<!-- legend -->
<line x1="360.9" y1="14.5" x2="394.9" y2="14.5" stroke="#28e028" stroke-width="1.15"/>
<line x1="360.9" y1="33.7" x2="394.9" y2="33.7" stroke="#d42a3c" stroke-width="1.25" stroke-dasharray="1.8 1.35"/>
<g class="lg">
<text transform="translate(398.8 19.1) scale(0.9 1)" style="letter-spacing:1.2px">Experimental</text>
<text transform="translate(398.8 37.0) scale(0.9 1)">Simulated</text>
</g>
<text class="ttl" transform="translate(195 330.5) scale(0.91 1)" style="letter-spacing:1.6px">Wavelength (nm)</text>
<text class="ttl" transform="translate(17.6 241.4) rotate(-90) scale(0.891 1)" style="letter-spacing:-0.3px">Optical Level (dBm)</text>
</svg>
</body></html>
